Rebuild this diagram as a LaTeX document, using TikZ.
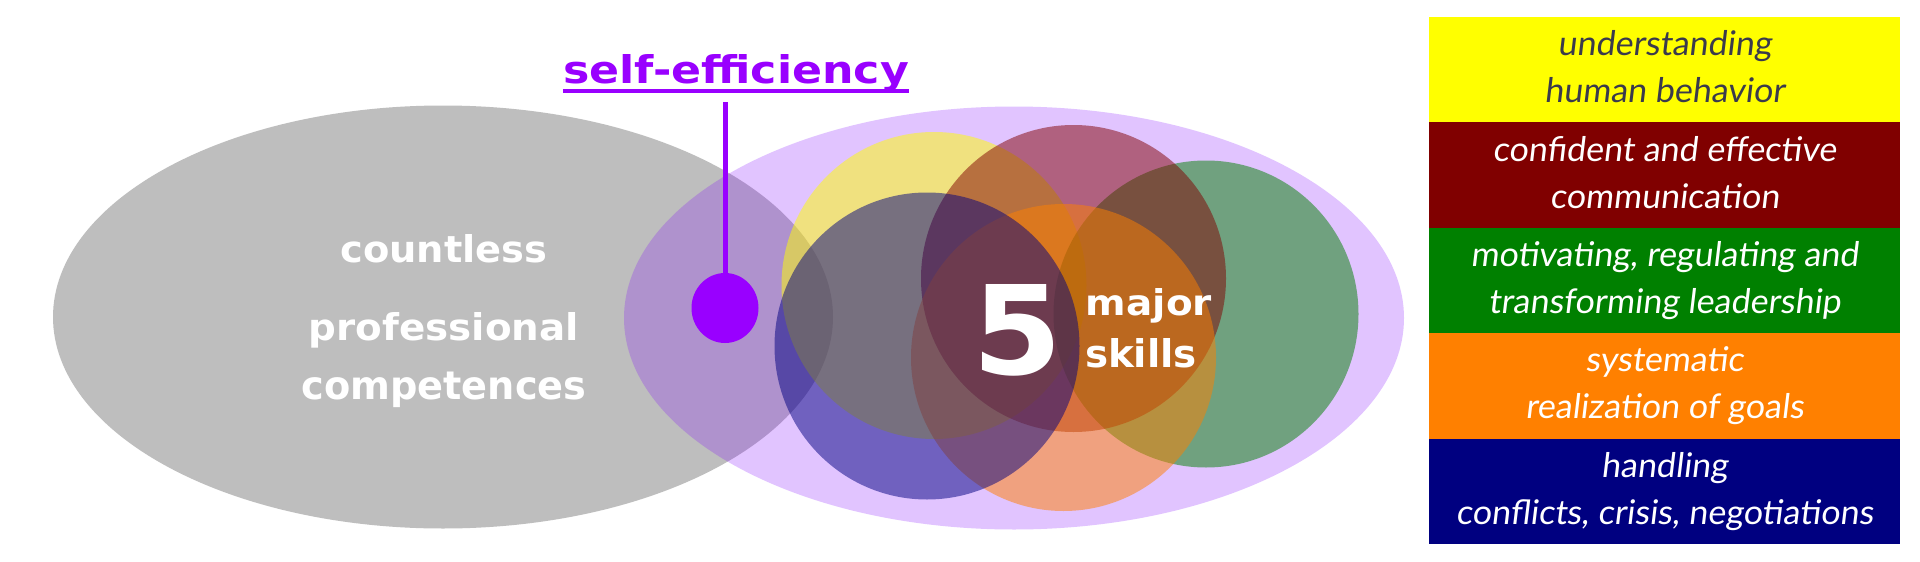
\documentclass[tikz,border=0pt]{standalone}
\usepackage{fontspec}
\usepackage{graphicx}
\usetikzlibrary{shapes.geometric}
\newfontfamily\lfont{DejaVu Sans}
\newfontfamily\bxfont[FakeSlant=0.12]{Lato}
\definecolor{gry}{HTML}{BEBEBE}
\definecolor{lav}{HTML}{8000FF}
\definecolor{vio}{HTML}{9900FF}
\definecolor{skY}{HTML}{FFFF00}
\definecolor{skR}{HTML}{800000}
\definecolor{skG}{HTML}{008000}
\definecolor{skO}{HTML}{FF8000}
\definecolor{skB}{HTML}{000080}
\definecolor{bxtxt}{HTML}{3A3A4C}
\begin{document}
\begin{tikzpicture}[x=1pt,y=-1pt,
  bigell/.style={ellipse, draw=none, inner sep=0pt, minimum width=780pt, minimum height=423pt},
  skill/.style={ellipse, draw=none, inner sep=0pt, fill=#1, fill opacity=0.5, minimum width=305pt, minimum height=307pt},
  wtxt/.style={inner sep=0pt, anchor=base, text=white, font=\lfont\bfseries},
  skillbox/.style={rectangle, draw=none, inner sep=0pt, minimum width=471pt, minimum height=105.4pt,
    align=center, fill=#1, font=\bxfont\fontsize{34}{47}\selectfont}
]
\fill[white] (0,0) rectangle (1920,562);
\useasboundingbox (0,0) rectangle (1920,562);

% big ellipses
\node[bigell, fill=gry] (comp) at (443,317) {};
\node[bigell, fill=lav, fill opacity=0.23] (selfset) at (1014,318) {};

% five skills
\node[skill=skY] (sy) at (934,285.5) {};
\node[skill=skG] (sg) at (1206,314) {};
\node[skill=skR] (sr) at (1073.5,278.5) {};
\node[skill=skO] (so) at (1063.5,357.5) {};
\node[skill=skB] (sb) at (927,346) {};

% left texts
\node[wtxt] (c1) at (444,262.5) {\resizebox{207pt}{28pt}{countless}};
\node[wtxt] (c2) at (444,340) {\resizebox{270pt}{28pt}{professional}};
\node[wtxt] (c3) at (444,399.5) {\resizebox{285pt}{27.5pt}{competences}};

% self-efficiency
\node[inner sep=0pt, anchor=base, text=vio, font=\lfont\bfseries] (se) at (736,83) {\resizebox{346pt}{29pt}{self-efficiency}};
\draw[vio, line width=4pt] ([yshift=-8pt]se.base west) -- ([yshift=-8pt]se.base east);
\node[ellipse, fill=vio, draw=none, inner sep=0pt, minimum width=67pt, minimum height=70pt] (dot) at (725,308) {};
\coordinate (seb) at ([yshift=-19pt]se.base);
\draw[vio, line width=5pt] (seb -| dot.north) -- (dot.north);

% 5 major skills
\node[wtxt] (five) at (1017.5,374) {\resizebox{90pt}{90pt}{5}};
\node[wtxt] (major) at (1149,315) {\resizebox{126pt}{27pt}{major}};
\node[wtxt] (skills) at (1141,367) {\resizebox{112pt}{29pt}{skills}};

% legend boxes
\node[skillbox=skY, text=bxtxt] (b1) at (1664.5,69.7) {\rule{0pt}{26pt}understanding\\human behavior\rule[-7pt]{0pt}{7pt}};
\node[skillbox=skR, text=white] (b2) at (1664.5,175.1) {\rule{0pt}{26pt}confident and effective\\communication\rule[-7pt]{0pt}{7pt}};
\node[skillbox=skG, text=white] (b3) at (1664.5,280.5) {\rule{0pt}{26pt}motivating, regulating and\\transforming leadership\rule[-7pt]{0pt}{7pt}};
\node[skillbox=skO, text=white] (b4) at (1664.5,385.9) {\rule{0pt}{26pt}systematic\\realization of goals\rule[-7pt]{0pt}{7pt}};
\node[skillbox=skB, text=white] (b5) at (1664.5,491.3) {\rule{0pt}{26pt}handling\\conflicts, crisis, negotiations\rule[-7pt]{0pt}{7pt}};
\end{tikzpicture}
\end{document}
